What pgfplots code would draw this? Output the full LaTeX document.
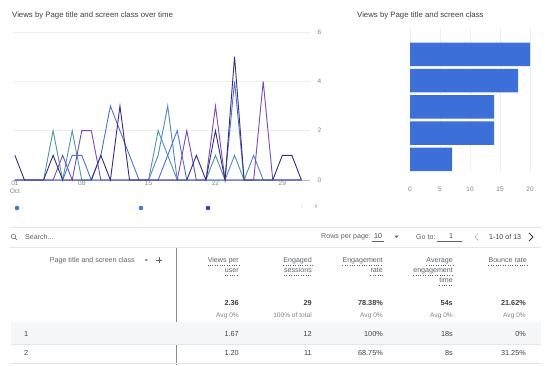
\documentclass[border=0pt]{standalone}
\usepackage{fontspec}
\setmainfont{Liberation Sans}
\usepackage{pgfplots}
\pgfplotsset{compat=1.18}
\definecolor{cTeal}{HTML}{4A98A8}
\definecolor{cBlue}{HTML}{4A72D6}
\definecolor{cSteel}{HTML}{4F88C0}
\definecolor{cPurple}{HTML}{7A4AB8}
\definecolor{cDark}{HTML}{3D2C7A}
\definecolor{barblue}{HTML}{3C6FD8}
\definecolor{tickgray}{HTML}{80868B}
\definecolor{hdrgray}{HTML}{5F6368}
\definecolor{txt}{HTML}{3C4043}
\definecolor{gridc}{HTML}{EDEEF0}
\definecolor{linec}{HTML}{E3E5E8}
\definecolor{rowbg}{HTML}{F6F7F8}
\definecolor{dotA}{HTML}{4B7CA8}
\definecolor{dotB}{HTML}{4A7CC0}
\definecolor{dotC}{HTML}{4B3D9E}
\newcommand\titlefont{\fontsize{7.8}{9}\selectfont}
\newcommand\hfont{\fontsize{7.1}{8}\selectfont}
\newcommand\tabfont{\fontsize{7.3}{8.5}\selectfont}
\newcommand\smallfont{\fontsize{6.6}{7.5}\selectfont}
\newcommand\tickfont{\fontsize{6.5}{7.4}\selectfont}
\newcommand{\hdr}[3]{\node[anchor=base east, inner sep=0pt, text=hdrgray, font=\hfont] (h) at (#1,#2) {#3};
  \draw[hdrgray, dotted, line width=0.4pt] ([yshift=-3pt]h.base west) -- ([yshift=-3pt]h.base east);}
\begin{document}
\begin{tikzpicture}
\useasboundingbox[fill=white] (0pt,0pt) rectangle (551pt,-365pt);
% ---------- line chart ----------
\begin{axis}[at={(13pt,-180pt)}, anchor=south west, scale only axis,
  width=297pt, height=148pt,
  xmin=0.8, xmax=31.9, ymin=0, ymax=6,
  axis line style={draw=none}, tick style={draw=none},
  ytick={0,2,4,6}, yticklabel pos=right,
  ymajorgrids, grid style={color=gridc, line width=0.5pt},
  extra y ticks={0}, extra y tick labels={},
  extra y tick style={grid style={color=tickgray!60, line width=0.5pt}},
  xtick={1,8,15,22,29}, xticklabels={{01\\Oct},08,15,22,29},
  xticklabel style={align=center, font=\tickfont, text=tickgray, inner sep=1pt},
  yticklabel style={font=\tickfont, text=tickgray, xshift=4pt},
  /pgf/number format/assume math mode=true,
  every axis plot/.append style={line width=0.9pt, mark=none, sharp plot},
  clip=false]
\addplot[cTeal] coordinates {(1,0)(2,0)(3,0)(4,0)(5,2)(6,0)(7,2)(8,0)(9,0)(10,0)(11,0)(12,0)(13,0)(14,0)(15,0)(16,2)(17,1)(18,0)(19,0)(20,0)(21,0)(22,1)(23,0)(24,1)(25,0)(26,0)(27,0)(28,0)(29,0)(30,0)(31,0)};
\addplot[cSteel] coordinates {(1,0)(2,0)(3,0)(4,0)(5,0)(6,0)(7,0)(8,0)(9,0)(10,0)(11,0)(12,0)(13,0)(14,0)(15,0)(16,1)(17,3)(18,0)(19,0)(20,0)(21,0)(22,0)(23,0)(24,0)(25,0)(26,1)(27,0)(28,0)(29,0)(30,0)(31,0)};
\addplot[cBlue] coordinates {(1,0)(2,0)(3,0)(4,0)(5,0)(6,0)(7,1)(8,1)(9,0)(10,1)(11,3)(12,2)(13,1)(14,0)(15,0)(16,0)(17,1)(18,2)(19,0)(20,0)(21,0)(22,0)(23,0)(24,4)(25,0)(26,0)(27,0)(28,0)(29,0)(30,0)(31,0)};
\addplot[cPurple] coordinates {(1,0)(2,0)(3,0)(4,0)(5,0)(6,1)(7,0)(8,2)(9,2)(10,0)(11,0)(12,0)(13,0)(14,0)(15,0)(16,0)(17,0)(18,0)(19,2)(20,0)(21,0)(22,3)(23,0)(24,0)(25,0)(26,0)(27,4)(28,0)(29,0)(30,0)(31,0)};
\addplot[cDark] coordinates {(1,1)(2,0)(3,0)(4,0)(5,1)(6,0)(7,0)(8,0)(9,0)(10,1)(11,0)(12,3)(13,0)(14,0)(15,0)(16,0)(17,0)(18,0)(19,0)(20,1)(21,0)(22,2)(23,0)(24,5)(25,0)(26,0)(27,0)(28,0)(29,1)(30,1)(31,0)};
\end{axis}
% ---------- bar chart ----------
\begin{axis}[at={(410pt,-171pt)}, anchor=south west, scale only axis,
  width=120pt, height=142pt,
  xbar, bar width=23.5pt,
  xmin=0, xmax=20, ymin=0.03, ymax=5.44, y dir=reverse,
  ytick=\empty, xtick={0,5,10,15,20},
  xmajorgrids, grid style={color=gridc, line width=0.5pt},
  axis line style={draw=none}, tick style={draw=none},
  xticklabel style={font=\tickfont, text=tickgray, yshift=-12pt},
  /pgf/number format/assume math mode=true, clip=false]
\addplot[fill=barblue, draw=none] coordinates {(20,1) (18,2) (14,3) (14,4) (7,5)};
\end{axis}
% ---------- decorations and table ----------
\begin{scope}[x=1pt, y=-1pt]
\node[anchor=west, inner sep=0pt, font=\titlefont, text=txt] at (12,15) {Views by Page title and screen class over time};
\node[anchor=west, inner sep=0pt, font=\titlefont, text=txt] at (357,15) {Views by Page title and screen class};
\fill[dotA] (17,208) circle (2.3);
\fill[dotB] (141,208) circle (2.3);
\fill[dotC] (208,208) circle (2.3);
\node[font=\tabfont, text=black!15] at (302,207) {‹};
\node[font=\tabfont, text=hdrgray] at (316,207) {›};
\draw[linec, line width=0.5pt] (10,227) -- (541,227);
% search row
\draw[hdrgray, line width=0.5pt] (13.5,236.5) circle (2.2);
\draw[hdrgray, line width=0.6pt] (15.1,238.1) -- (17,240);
\node[anchor=west, inner sep=0pt, font=\hfont, text=hdrgray] at (25,237) {Search...};
\node[anchor=west, inner sep=0pt, font=\hfont, text=hdrgray] at (321,237) {Rows per page:};
\node[anchor=west, inner sep=0pt, font=\hfont, text=txt] at (374,236) {10};
\draw[hdrgray, line width=0.4pt] (372,241.5) -- (384,241.5);
\fill[hdrgray] (394.3,235.5) -- (398.7,235.5) -- (396.5,238) -- cycle;
\node[anchor=west, inner sep=0pt, font=\hfont, text=hdrgray] at (416,237) {Go to:};
\node[inner sep=0pt, font=\hfont, text=txt] at (451,236) {1};
\draw[hdrgray, line width=0.4pt] (437,241.5) -- (462,241.5);
\draw[black!30, line width=0.6pt] (478,233.5) -- (475,237) -- (478,240.5);
\node[anchor=west, inner sep=0pt, font=\hfont, text=txt] at (489,237) {1-10 of 13};
\draw[txt, line width=0.9pt] (529,233) -- (533,237) -- (529,241);
\draw[linec, line width=0.5pt] (10,247.5) -- (541,247.5);
% table header
\node[anchor=base east, inner sep=0pt, font=\hfont, text=hdrgray] at (135,262.5) {Page title and screen class};
\fill[hdrgray] (144.6,259.3) -- (147.8,259.3) -- (146.2,261.2) -- cycle;
\draw[hdrgray, line width=0.7pt] (156,260) -- (162,260) (159,257) -- (159,263);
\draw[black!45, line width=0.8pt] (176,248) -- (176,365);
\hdr{239}{262.5}{Views per}
\hdr{239}{272.5}{user}
\hdr{312}{262.5}{Engaged}
\hdr{312}{272.5}{sessions}
\hdr{383}{262.5}{Engagement}
\hdr{383}{272.5}{rate}
\hdr{453}{262.5}{Average}
\hdr{453}{272.5}{engagement}
\hdr{453}{282.5}{time}
\hdr{527}{262.5}{Bounce rate}
% totals
\foreach \x/\v in {239/2.36, 312/29, 383/78.38\%, 453/54s, 526/21.62\%}
  \node[anchor=base east, inner sep=0pt, font=\tabfont\bfseries, text=txt] at (\x,305.5) {\v};
\foreach \x/\v in {239/Avg 0\%, 312/100\% of total, 383/Avg 0\%, 453/Avg 0\%, 526/Avg 0\%}
  \node[anchor=base east, inner sep=0pt, font=\smallfont, text=tickgray] at (\x,317.5) {\v};
% rows
\fill[rowbg] (11,322) rectangle (175.6,344);
\fill[rowbg] (176.4,322) rectangle (541,344);
\draw[linec, line width=0.5pt] (11,344.5) -- (541,344.5);
\draw[linec, line width=0.5pt] (11,363.5) -- (541,363.5);
\node[anchor=base west, inner sep=0pt, font=\tabfont, text=txt] at (24,336.5) {1};
\node[anchor=base west, inner sep=0pt, font=\tabfont, text=txt] at (24,355.5) {2};
\foreach \x/\v in {239/1.67, 312/12, 383/100\%, 453/18s, 526/0\%}
  \node[anchor=base east, inner sep=0pt, font=\tabfont, text=txt] at (\x,336.5) {\v};
\foreach \x/\v in {239/1.20, 312/11, 383/68.75\%, 453/8s, 526/31.25\%}
  \node[anchor=base east, inner sep=0pt, font=\tabfont, text=txt] at (\x,355.5) {\v};
\end{scope}
\end{tikzpicture}
\end{document}
